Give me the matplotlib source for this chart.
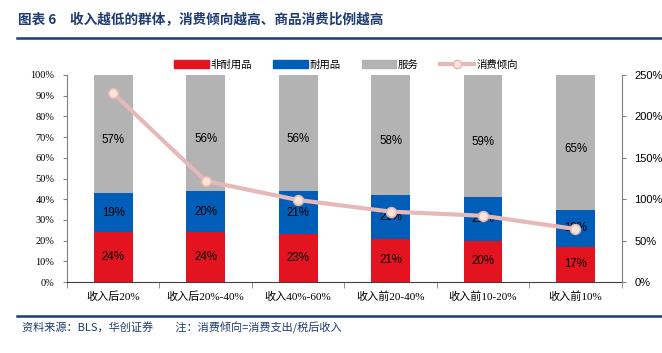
import matplotlib
matplotlib.use("Agg")
import matplotlib.pyplot as plt
from matplotlib.lines import Line2D
from matplotlib.patches import Patch
import numpy as np

plt.rcParams['font.family'] = ['Noto Sans CJK SC', 'DejaVu Sans']

# 数据
categories = ['收入后20%', '收入后20%-40%', '收入40%-60%', '收入前20-40%', '收入前10-20%', '收入前10%']
nondurable = [24, 24, 23, 21, 20, 17]
durable = [19, 20, 21, 21, 21, 18]
services = [57, 56, 56, 58, 59, 65]
propensity = [228, 122, 99, 85, 80, 64]

c_red = '#E3141F'
c_blue = '#005EB8'
c_grey = '#B3B3B3'
c_line = '#E6B8B7'
c_title = '#1F3B73'

fig = plt.figure(figsize=(6.62, 3.53), dpi=100)
ax = fig.add_axes([67 / 662, 71 / 353, 554.7 / 662, 207 / 353])
ax2 = ax.twinx()

x = np.arange(len(categories))
w = 0.42
ax.bar(x, nondurable, w, color=c_red, zorder=2)
ax.bar(x, durable, w, bottom=nondurable, color=c_blue, zorder=2)
bottom3 = np.array(nondurable) + np.array(durable)
ax.bar(x, services, w, bottom=bottom3, color=c_grey, zorder=2)

lab_font = dict(family=['Liberation Sans', 'DejaVu Sans'], fontsize=8.3, color='black')
for i in x:
    ax.text(i, nondurable[i] / 2, f'{nondurable[i]}%', ha='center', va='center', **lab_font)
    ax.text(i, nondurable[i] + durable[i] / 2, f'{durable[i]}%', ha='center', va='center', **lab_font)
    ax.text(i, bottom3[i] + services[i] * 0.45, f'{services[i]}%', ha='center', va='center', **lab_font)

ax.set_xlim(-0.5, len(categories) - 0.5)
ax.set_ylim(0, 100)
ax.set_yticks(np.arange(0, 101, 10))
ax.set_yticklabels([f'{v}%' for v in range(0, 101, 10)], family=['Liberation Serif'], fontsize=7.5)
ax.set_xticks(x)
ax.set_xticklabels(categories, family=['Liberation Serif', 'Noto Sans CJK SC'], fontsize=8)
ax.set_xticks(np.arange(-0.5, len(categories), 1), minor=True)
ax.tick_params(axis='x', which='major', length=0, pad=7)
ax.tick_params(axis='x', which='minor', length=4, color='#808080')
ax.tick_params(axis='y', length=3, color='#808080', pad=6)

ax2.plot(x, propensity, color=c_line, lw=3, marker='o', ms=7,
         mfc='#FCE4D6', mec=c_line, mew=1.2, zorder=3)
ax2.set_ylim(0, 250)
ax2.set_yticks(np.arange(0, 251, 50))
ax2.set_yticklabels([f'{v}%' for v in range(0, 251, 50)], family=['Liberation Sans'], fontsize=8)
ax2.tick_params(axis='y', length=3, color='#808080', pad=6)

for a in (ax, ax2):
    a.spines['top'].set_visible(False)
    a.spines['left'].set_color('#808080')
    a.spines['right'].set_color('#808080')
    a.spines['bottom'].set_color('#404040')
ax.spines['right'].set_visible(False)
ax2.spines['left'].set_visible(False)
ax2.spines['bottom'].set_visible(False)

handles = [Patch(color=c_red), Patch(color=c_blue), Patch(color=c_grey),
           Line2D([0], [0], color=c_line, lw=3, marker='o', ms=6, mfc='#FCE4D6', mec=c_line)]
fig.legend(handles, ['非耐用品', '耐用品', '服务', '消费倾向'], loc='center',
           bbox_to_anchor=(346 / 662, 1 - 65 / 353), ncol=4, frameon=False,
           prop=dict(family=['Noto Sans CJK SC'], size=7.5),
           handlelength=3.3, handleheight=0.8, handletextpad=0.2, columnspacing=2.0)

# 标题与来源
fig.text(18 / 662, 1 - 20 / 353, '图表 6　收入越低的群体，消费倾向越高、商品消费比例越高',
         fontsize=9.8, fontweight='bold', color=c_title, va='center')
fig.add_artist(Line2D([17 / 662, 1], [1 - 38 / 353] * 2, color=c_title, lw=1.8))
fig.add_artist(Line2D([17 / 662, 1], [1 - 316 / 353] * 2, color=c_title, lw=1.8))
fig.text(22 / 662, 1 - 328 / 353, '资料来源：BLS，华创证券　　注：消费倾向=消费支出/税后收入',
         fontsize=8, style='italic', color=c_title, va='center')

fig.savefig('out.png', dpi=100)
